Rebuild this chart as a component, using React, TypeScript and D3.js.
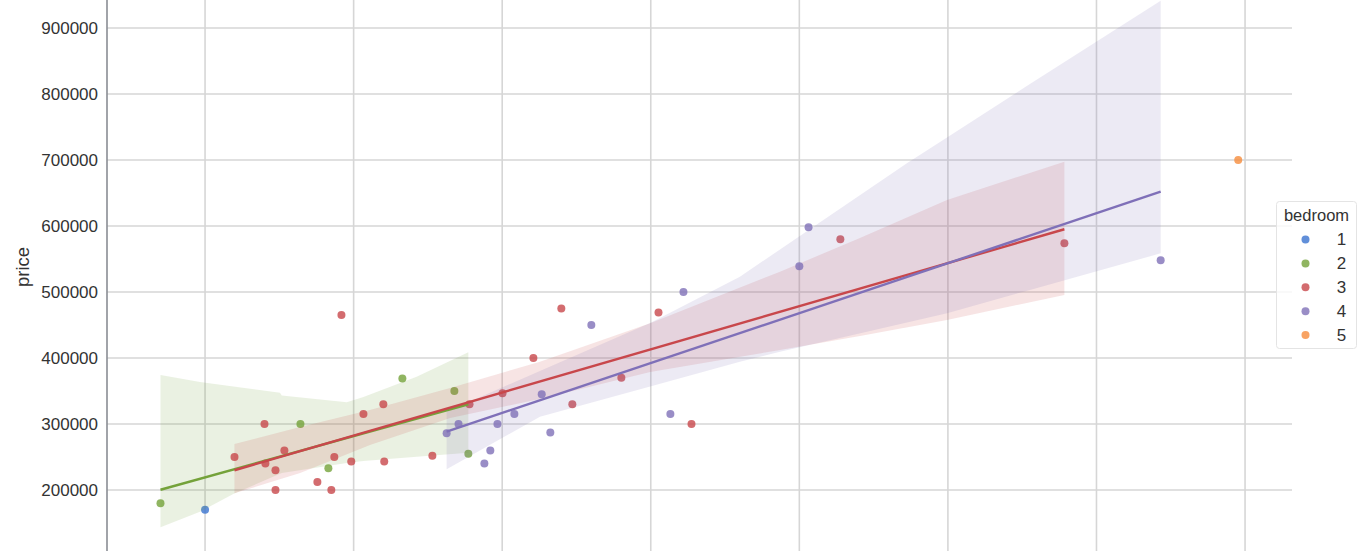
import React from "react";
import * as d3 from "d3";

// ---- data ----
const bedroomLevels = ["1", "2", "3", "4", "5"];
const levelColors = ["#3a73cf", "#74a23a", "#c8474b", "#7f70b8", "#f68c3c"];

const area1 = [1000];
const price1 = [170000];

const area2 = [850, 1321, 1415, 1664, 1839, 1886];
const price2 = [180000, 300000, 233000, 369000, 350000, 255000];

const area3 = [1099, 1200, 1203, 1237, 1237, 1267, 1378, 1425, 1435, 1459, 1492, 1533, 1600, 1603, 1765, 1890, 2001, 2105, 2199, 2236, 2401, 2526, 2637, 3138, 3892];
const price3 = [250000, 300000, 240000, 230000, 200000, 260000, 212000, 200000, 250000, 465000, 243000, 315000, 330000, 243000, 252000, 330000, 346500, 400000, 475000, 330000, 370000, 469000, 300000, 580000, 574000];

const area4 = [1813, 1853, 1940, 1960, 1984, 2041, 2133, 2162, 2300, 2566, 2610, 3000, 3031, 4216];
const price4 = [286000, 300000, 240000, 260000, 300000, 315000, 345000, 287000, 450000, 315000, 500000, 539000, 598000, 548000];

const area5 = [4477];
const price5 = [700000];

// 95% confidence bands (bootstrapped in the original)
const band2X = [850, 983, 1095, 1252, 1258, 1477, 1533, 1712, 1886];
const band2Lo = [143500, 167100, 193900, 224600, 225800, 240900, 243900, 250500, 256500];
const band2Hi = [374200, 363600, 356800, 347300, 343000, 332900, 340900, 371700, 408600];

const band3X = [1099, 1320, 1555, 1825, 2127, 2498, 2935, 3204, 3497, 3892];
const band3Lo = [195000, 225800, 268200, 309100, 337900, 378800, 412100, 433300, 457600, 495500];
const band3Hi = [269700, 295500, 321200, 354500, 394400, 452600, 530800, 581800, 639400, 697400];

const band4X = [1813, 2127, 2498, 2800, 2935, 3362, 3497, 3776, 4216];
const band4Lo = [231400, 311100, 356800, 394400, 409500, 453600, 467700, 503200, 558600];
const band4Hi = [318600, 380300, 453000, 523200, 564400, 695000, 734100, 815200, 941400];

const xTicks = [1000, 1500, 2000, 2500, 3000, 3500, 4000, 4500];
const yTicks = [200000, 300000, 400000, 500000, 600000, 700000, 800000, 900000];

const groups = [
  { xs: area1, ys: price1, band: null as null | { x: number[]; lo: number[]; hi: number[] } },
  { xs: area2, ys: price2, band: { x: band2X, lo: band2Lo, hi: band2Hi } },
  { xs: area3, ys: price3, band: { x: band3X, lo: band3Lo, hi: band3Hi } },
  { xs: area4, ys: price4, band: { x: band4X, lo: band4Lo, hi: band4Hi } },
  { xs: area5, ys: price5, band: null },
];

function fit(xs: number[], ys: number[]) {
  const mx = d3.mean(xs)!;
  const my = d3.mean(ys)!;
  let sxy = 0, sxx = 0;
  xs.forEach((x, i) => {
    sxy += (x - mx) * (ys[i] - my);
    sxx += (x - mx) * (x - mx);
  });
  const b = sxy / sxx;
  const a = my - b * mx;
  const x0 = d3.min(xs)!, x1 = d3.max(xs)!;
  return [
    [x0, a + b * x0],
    [x1, a + b * x1],
  ];
}

const W = 1366, H = 551;
const FONT = "'Liberation Sans', Arial, 'DejaVu Sans', sans-serif";

export default function App() {
  const x = d3.scaleLinear().domain([670, 4658]).range([107, 1292]);
  const y = d3.scaleLinear().domain([100000, 950000]).range([556, -5]);
  const areaGen = d3
    .area<{ x: number; lo: number; hi: number }>()
    .x((d) => x(d.x))
    .y0((d) => y(d.lo))
    .y1((d) => y(d.hi));
  const lineGen = d3
    .line<number[]>()
    .x((d) => x(d[0]))
    .y((d) => y(d[1]));

  const collections: React.ReactNode[] = [];
  const lines: React.ReactNode[] = [];
  groups.forEach((g, gi) => {
    const c = levelColors[gi];
    collections.push(
      <g key={"s" + gi} fill={c} fillOpacity={0.8}>
        {g.xs.map((v, i) => (
          <circle key={i} cx={x(v)} cy={y(g.ys[i])} r={4} />
        ))}
      </g>
    );
    if (g.band) {
      const pts = g.band.x.map((v, i) => ({ x: v, lo: g.band!.lo[i], hi: g.band!.hi[i] }));
      collections.push(
        <path key={"b" + gi} d={areaGen(pts) || ""} fill={c} fillOpacity={0.15} />
      );
      lines.push(
        <path key={"l" + gi} d={lineGen(fit(g.xs, g.ys)) || ""} fill="none" stroke={c} strokeWidth={2.4} />
      );
    }
  });

  const gridColor = "#d6d6d6";
  const textColor = "#333333";

  return (
    <svg
      width={W}
      height={H}
      style={{ position: "absolute", left: 0, top: 0, background: "#fff" }}
      fontFamily={FONT}
    >
      <rect x={0} y={0} width={W} height={H} fill="#fff" />
      {/* grid */}
      <g stroke={gridColor} strokeWidth={1.6}>
        {xTicks.map((t) => (
          <line key={t} x1={x(t)} x2={x(t)} y1={0} y2={H} />
        ))}
        {yTicks.map((t) => (
          <line key={t} x1={107} x2={1292} y1={y(t)} y2={y(t)} />
        ))}
      </g>
      {/* left spine */}
      <line x1={107} x2={107} y1={0} y2={H} stroke="#8a8d94" strokeWidth={1.6} />
      {/* y tick labels */}
      <g fontSize={17} fill={textColor} textAnchor="end">
        {yTicks.map((t) => (
          <text key={t} x={98} y={y(t)} dy="0.35em">
            {d3.format("d")(t)}
          </text>
        ))}
      </g>
      <text
        transform={`translate(29,267) rotate(-90)`}
        textAnchor="middle"
        fontSize={18.5}
        fill={textColor}
      >
        price
      </text>
      {collections}
      {lines}
      {/* legend */}
      <g>
        <rect x={1276.5} y={201.5} width={80} height={147} rx={3} fill="#fff" fillOpacity={0.8} stroke="#e4e4e4" strokeWidth={1} />
        <text x={1316.5} y={220.5} textAnchor="middle" fontSize={16.5} fill={textColor}>
          bedroom
        </text>
        {bedroomLevels.map((lv, i) => (
          <g key={lv}>
            <circle cx={1305.5} cy={239.5 + i * 23.9} r={4} fill={levelColors[i]} fillOpacity={0.8} />
            <text x={1341.5} y={239.5 + i * 23.9} dy="0.35em" textAnchor="middle" fontSize={17} fill={textColor}>
              {lv}
            </text>
          </g>
        ))}
      </g>
    </svg>
  );
}
